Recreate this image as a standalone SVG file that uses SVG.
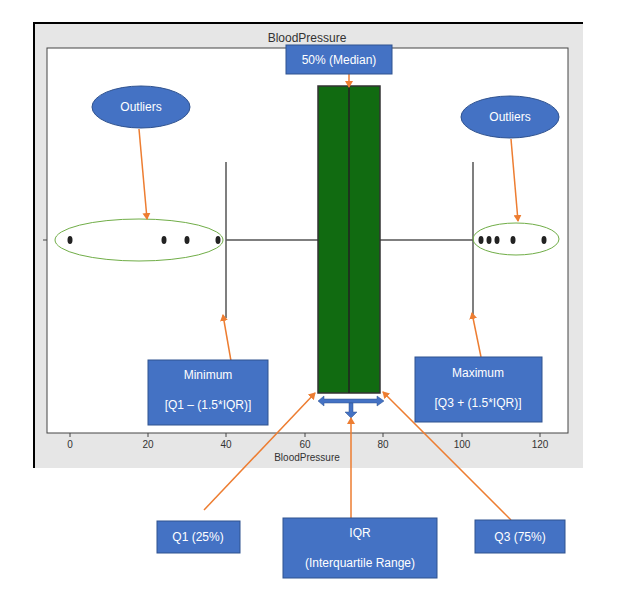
<svg xmlns="http://www.w3.org/2000/svg" width="624" height="599" viewBox="0 0 624 599">
<style>
text{font-family:"Liberation Sans",Arial,sans-serif}
.ax{font-size:10px;fill:#333;text-anchor:middle}
.lb{font-size:12px;fill:#fff;text-anchor:middle}
.box{fill:#4472c4;stroke:#2f528f;stroke-width:1}
.or{stroke:#ed7d31;stroke-width:1.5;fill:none;marker-end:url(#oa)}
.wh{stroke:#555;stroke-width:1.5}
</style>
<defs>
<marker id="oa" markerWidth="8" markerHeight="8" refX="6" refY="4" orient="auto" markerUnits="userSpaceOnUse"><path d="M0,0 L7,4 L0,8 Z" fill="#ed7d31"/></marker>
</defs>
<rect width="624" height="599" fill="#fff"/>
<g id="chart">
<rect x="34" y="23" width="549" height="445" fill="#e6e6e6"/>
<path d="M34,468 V23 H583" stroke="#000" stroke-width="2" fill="none"/>
<rect x="47" y="48" width="521" height="385" fill="#fff" stroke="#444" stroke-width="1"/>
<text x="307" y="42" font-size="12" fill="#333" text-anchor="middle" style="font-size:12px">BloodPressure</text>
<g stroke="#444"><path d="M70,433v4M148,433v4M226,433v4M305,433v4M383,433v4M462,433v4M540,433v4M43,240h4"/></g>
<text class="ax" x="70" y="448">0</text><text class="ax" x="148" y="448">20</text><text class="ax" x="226" y="448">40</text><text class="ax" x="305" y="448">60</text><text class="ax" x="383" y="448">80</text><text class="ax" x="462" y="448">100</text><text class="ax" x="540" y="448">120</text>
<text class="ax" x="307" y="461">BloodPressure</text>
<line class="wh" x1="226" y1="240" x2="318" y2="240"/><line class="wh" x1="380" y1="240" x2="473" y2="240"/>
<line class="wh" x1="226" y1="162" x2="226" y2="318"/><line class="wh" x1="473" y1="162" x2="473" y2="318"/>
<rect x="318" y="86" width="62" height="307" fill="#116b11" stroke="#333" stroke-width="1.5"/>
<line x1="349" y1="86" x2="349" y2="393" stroke="#222" stroke-width="1.5"/>
<g fill="#222"><ellipse cx="70" cy="240" rx="2.5" ry="4"/><ellipse cx="164" cy="240" rx="2.5" ry="4"/><ellipse cx="187" cy="240" rx="2.5" ry="4"/><ellipse cx="218" cy="240" rx="2.5" ry="4"/><ellipse cx="481" cy="240" rx="2.5" ry="4"/><ellipse cx="489" cy="240" rx="2.5" ry="4"/><ellipse cx="497" cy="240" rx="2.5" ry="4"/><ellipse cx="513" cy="240" rx="2.5" ry="4"/><ellipse cx="544" cy="240" rx="2.5" ry="4"/></g>
<ellipse cx="139" cy="240" rx="84" ry="21" fill="none" stroke="#70ad47" stroke-width="1"/>
<ellipse cx="516" cy="239" rx="43" ry="16" fill="none" stroke="#70ad47" stroke-width="1"/>
</g>
<g id="iqr-arrow" fill="#4472c4" stroke="#2f528f" stroke-width="0.5">
<path d="M318,401 L324,396 V399 H377 V396 L384,401 L377,406 V403 H324 V406 Z"/>
<path d="M349,403 H353 V412 H357 L351,418 L345,412 H349 Z"/>
</g>
<g id="connectors">
<line class="or" x1="349" y1="74" x2="349" y2="87"/>
<line class="or" x1="139" y1="129" x2="147" y2="219"/>
<line class="or" x1="511" y1="139" x2="518" y2="221"/>
<line class="or" x1="231" y1="361" x2="223" y2="315"/>
<line class="or" x1="481" y1="357" x2="472" y2="313"/>
<line class="or" x1="204" y1="510" x2="315" y2="393"/>
<line class="or" x1="351" y1="518" x2="351" y2="418"/>
<line class="or" x1="511" y1="520" x2="383" y2="392"/>
</g>
<g id="median"><rect class="box" x="286" y="45" width="106" height="29"/><text class="lb" x="339" y="64">50% (Median)</text></g>
<g id="outliers-left"><ellipse class="box" cx="141" cy="107" rx="49" ry="21"/><text class="lb" x="141" y="111">Outliers</text></g>
<g id="outliers-right"><ellipse class="box" cx="510" cy="117" rx="49" ry="21"/><text class="lb" x="510" y="121">Outliers</text></g>
<g id="minimum"><rect class="box" x="148" y="360" width="120" height="65"/><text class="lb" x="208" y="379">Minimum</text><text class="lb" x="208" y="409">[Q1 – (1.5*IQR)]</text></g>
<g id="maximum"><rect class="box" x="415" y="357" width="127" height="65"/><text class="lb" x="478" y="377">Maximum</text><text class="lb" x="478" y="407">[Q3 + (1.5*IQR)]</text></g>
<g id="q1"><rect class="box" x="157" y="521" width="83" height="32"/><text class="lb" x="198" y="541">Q1 (25%)</text></g>
<g id="iqr"><rect class="box" x="283" y="518" width="154" height="60"/><text class="lb" x="360" y="537">IQR</text><text class="lb" x="360" y="567">(Interquartile Range)</text></g>
<g id="q3"><rect class="box" x="475" y="520" width="90" height="33"/><text class="lb" x="520" y="541">Q3 (75%)</text></g>
</svg>
